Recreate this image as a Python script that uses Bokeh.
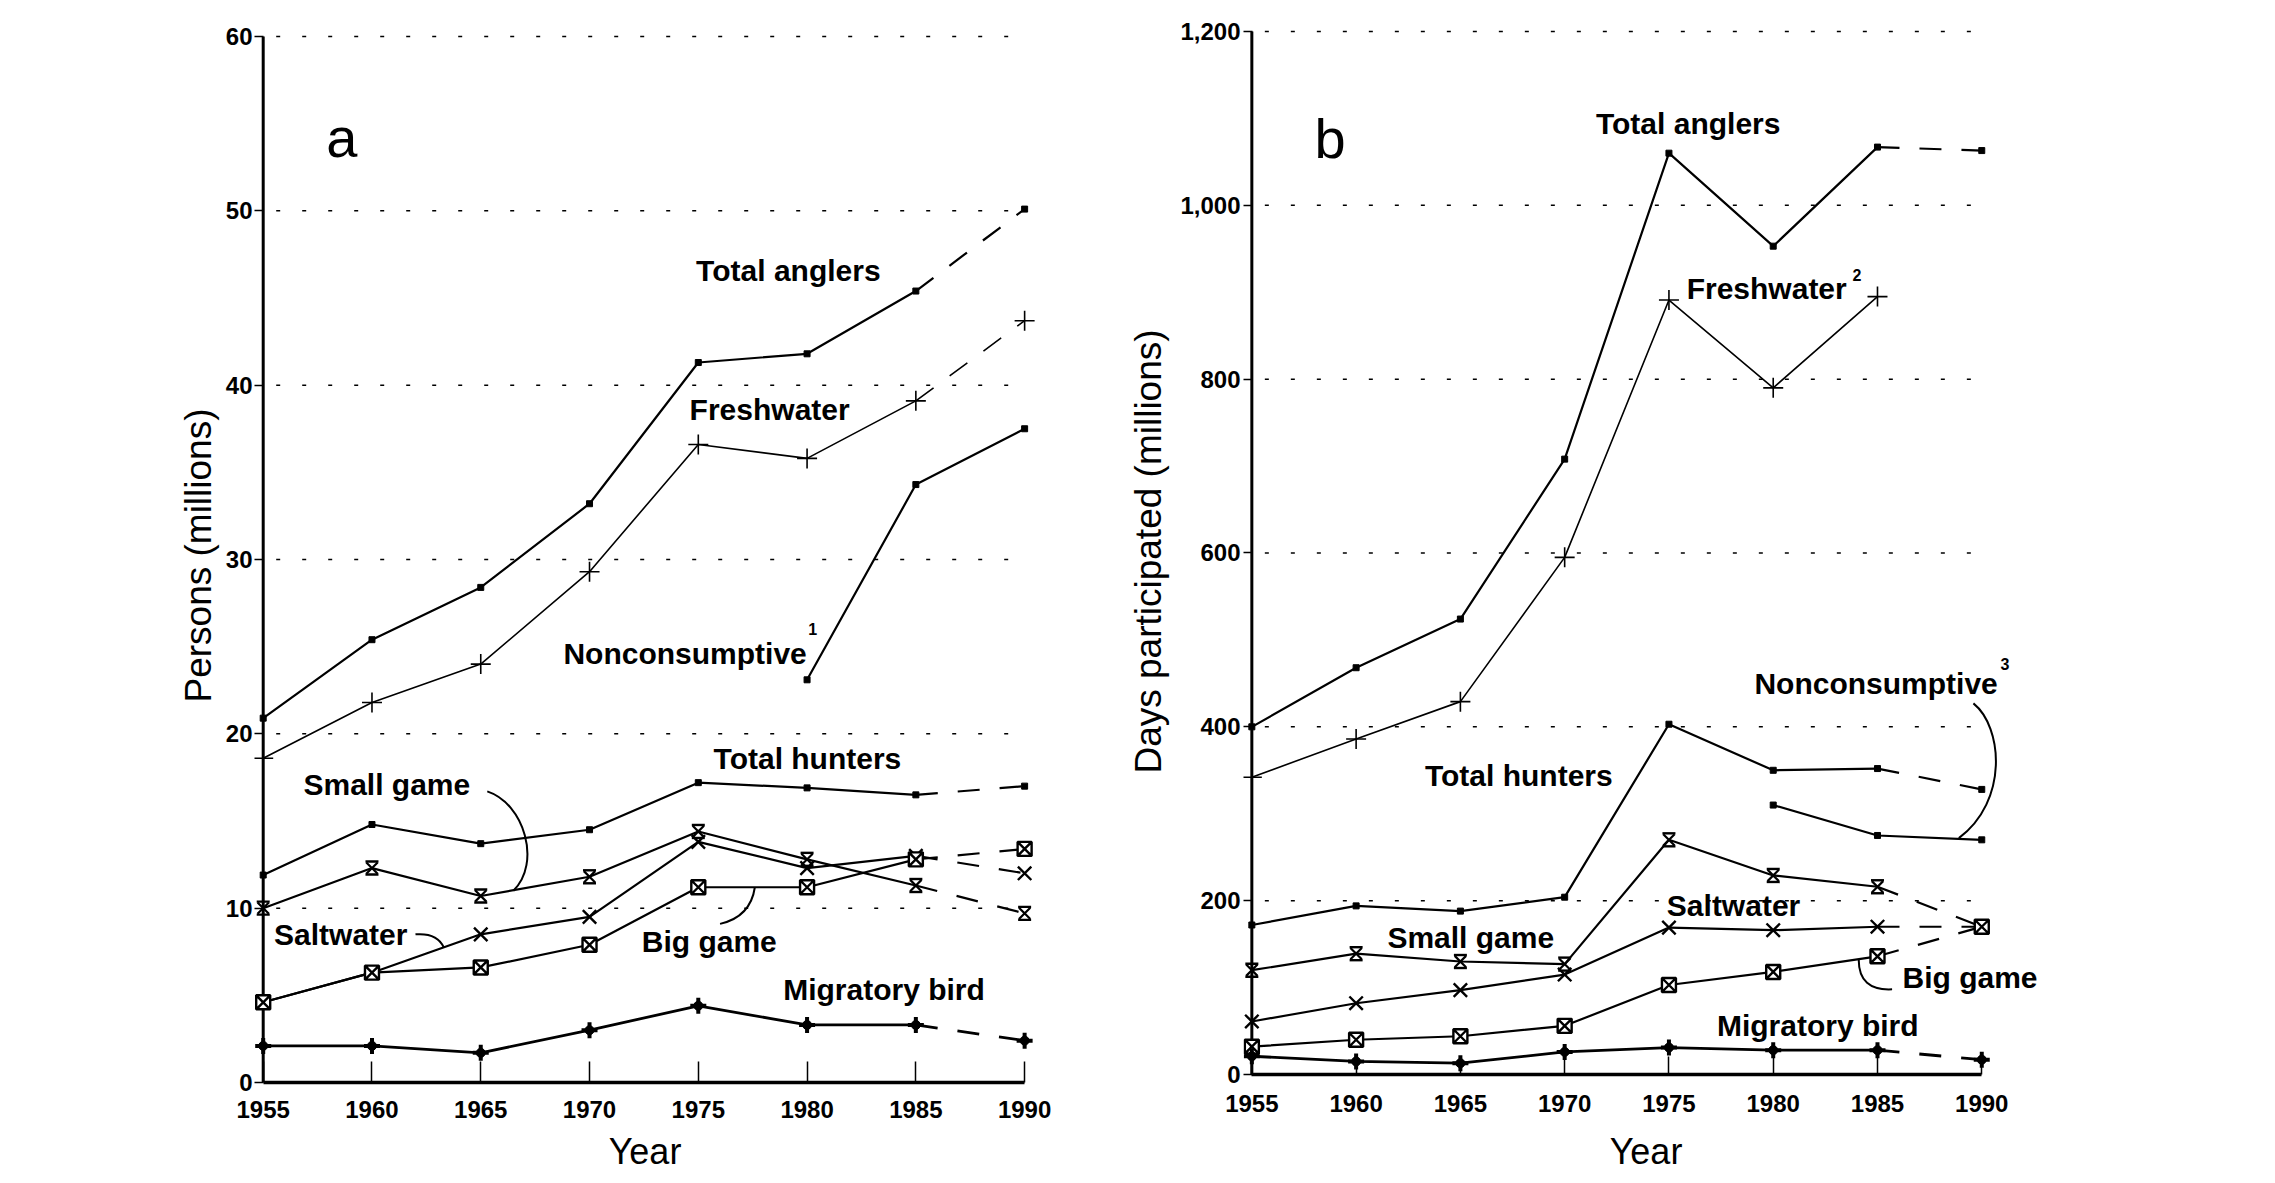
from bokeh.plotting import figure
from bokeh.layouts import row
from bokeh.models import Label, FixedTicker, NumeralTickFormatter, Range1d
from bokeh.embed import file_html
from bokeh.resources import INLINE

FONT = "Liberation Sans"

# ---------------- data ----------------
years = [1955, 1960, 1965, 1970, 1975, 1980, 1985, 1990]
nonc_years = [1980, 1985, 1990]
fresh_b_years = [1955, 1960, 1965, 1970, 1975, 1980, 1985]
a_yticks = [0, 10, 20, 30, 40, 50, 60]
b_yticks = [0, 200, 400, 600, 800, 1000, 1200]

# Panel a: persons (millions)
a_total_anglers = [20.9, 25.4, 28.4, 33.2, 41.3, 41.8, 45.4, 50.1]
a_freshwater = [18.6, 21.8, 24.0, 29.3, 36.6, 35.8, 39.1, 43.7]
a_nonconsumptive = [23.1, 34.3, 37.5]
a_total_hunters = [11.9, 14.8, 13.7, 14.5, 17.2, 16.9, 16.5, 17.0]
a_small_game = [10.0, 12.3, 10.7, 11.8, 14.4, 12.8, 11.3, 9.7]
a_saltwater = [4.6, 6.3, 8.5, 9.5, 13.8, 12.3, 13.0, 12.0]
a_big_game = [4.6, 6.3, 6.6, 7.9, 11.2, 11.2, 12.8, 13.4]
a_migratory_bird = [2.1, 2.1, 1.7, 3.0, 4.4, 3.3, 3.3, 2.4]

# Panel b: days participated (millions)
b_total_anglers = [400, 468, 524, 708, 1060, 953, 1067, 1063]
b_freshwater = [342, 386, 429, 595, 891, 790, 895]
b_nonconsumptive = [310, 275, 270]
b_total_hunters = [172, 194, 188, 204, 403, 350, 352, 328]
b_small_game = [120, 139, 130, 127, 270, 229, 216, 170]
b_saltwater = [61, 82, 97, 115, 169, 166, 170, 170]
b_big_game = [32, 40, 44, 56, 103, 118, 136, 170]
b_migratory_bird = [21, 15, 13, 26, 31, 28, 28, 17]

DASH = "22 20"
GRID_DASH = "4 22"
TOP = 28


def make_fig(frame_w, frame_h, bl, br, bb, xr, yr):
    p = figure(frame_width=frame_w, frame_height=frame_h,
               min_border_left=bl, min_border_right=br,
               min_border_top=TOP, min_border_bottom=bb,
               x_range=Range1d(*xr), y_range=Range1d(*yr),
               output_backend="svg", toolbar_location=None)
    p.outline_line_color = None
    p.background_fill_color = "white"
    p.border_fill_color = "white"
    return p


def style_axes(p, yticks, ylabel, x_tick_in, x_std, x_als, y_std, y_als, fmt=None):
    p.xaxis.ticker = FixedTicker(ticks=years)
    p.xaxis.bounds = (1955, 1990)
    p.xaxis.axis_line_width = 3.5
    p.xaxis.axis_line_color = "black"
    p.xaxis.major_tick_in = x_tick_in
    p.xaxis.major_tick_out = 0
    p.xaxis.major_tick_line_width = 1.5
    p.xaxis.minor_tick_line_color = None
    p.xaxis.major_label_standoff = x_std
    p.xaxis.major_label_text_font = FONT
    p.xaxis.major_label_text_font_size = "24px"
    p.xaxis.major_label_text_font_style = "bold"
    p.xaxis.major_label_text_color = "black"
    p.xaxis.axis_label = "Year"
    p.xaxis.axis_label_standoff = x_als
    p.xaxis.axis_label_text_font = FONT
    p.xaxis.axis_label_text_font_size = "36px"
    p.xaxis.axis_label_text_font_style = "normal"
    p.xaxis.axis_label_text_color = "black"

    p.yaxis.ticker = FixedTicker(ticks=yticks)
    if fmt:
        p.yaxis.formatter = NumeralTickFormatter(format=fmt)
    p.yaxis.axis_line_color = None
    p.yaxis.major_tick_in = 9
    p.yaxis.major_tick_out = 0
    p.yaxis.major_tick_line_width = 1.5
    p.yaxis.minor_tick_line_color = None
    p.yaxis.major_label_standoff = y_std
    p.yaxis.major_label_text_font = FONT
    p.yaxis.major_label_text_font_size = "24px"
    p.yaxis.major_label_text_font_style = "bold"
    p.yaxis.major_label_text_color = "black"
    p.yaxis.axis_label = ylabel
    p.yaxis.axis_label_standoff = y_als
    p.yaxis.axis_label_text_font = FONT
    p.yaxis.axis_label_text_font_size = "37px"
    p.yaxis.axis_label_text_font_style = "normal"
    p.yaxis.axis_label_text_color = "black"

    # dotted horizontal grid from 1955 to 1990 at every labelled value above 0
    p.xgrid.grid_line_color = None
    p.ygrid.grid_line_color = None
    gy = [v for v in yticks if v > 0]
    p.segment(x0=[years[0]] * len(gy), x1=[years[-1]] * len(gy), y0=gy, y1=gy,
              line_color="black", line_width=1.5, line_dash=GRID_DASH,
              line_dash_offset=13, level="underlay")

    # vertical axis line at 1955, from 0 to the top tick
    p.segment(x0=[years[0]], x1=[years[0]], y0=[yticks[0]], y1=[yticks[-1]],
              line_color="black", line_width=3)


def draw_line(p, xs, ys, lw=2.2, dashed_last=True):
    if dashed_last:
        p.line(xs[:-1], ys[:-1], line_color="black", line_width=lw)
        p.line(xs[-2:], ys[-2:], line_color="black", line_width=lw, line_dash=DASH)
    else:
        p.line(xs, ys, line_color="black", line_width=lw)


def dots(p, xs, ys):
    p.scatter(xs, ys, marker="square", size=6, color="black")


def thin_plus(p, xs, ys):
    p.scatter(xs, ys, marker="cross", size=20, line_color="black", line_width=1.6)


def hourglass(p, xs, ys, per_px):
    off = 6.5 * per_px
    p.scatter(xs, ys, marker="x", size=16, line_color="black", line_width=2.2)
    p.scatter(xs, [v + off for v in ys], marker="dash", size=13, line_color="black", line_width=2.4)
    p.scatter(xs, [v - off for v in ys], marker="dash", size=13, line_color="black", line_width=2.4)


def xmark(p, xs, ys):
    p.scatter(xs, ys, marker="x", size=19, line_color="black", line_width=2.4)


def boxx(p, xs, ys):
    p.scatter(xs, ys, marker="square_x", size=14, line_color="black",
              fill_color="white", line_width=2.4)


def bird(p, xs, ys):
    p.scatter(xs, ys, marker="cross", size=16, line_color="black", line_width=4)
    p.scatter(xs, ys, marker="circle", size=9, color="black")


def lbl(p, x, y, text, size="30px", style="bold", align="left", baseline="middle"):
    p.add_layout(Label(x=x, y=y, text=text, text_font=FONT, text_font_size=size,
                       text_font_style=style, text_align=align, text_baseline=baseline,
                       text_color="black"))


# ---------------- panel a ----------------
A_FH = 1054
A_YEND = 60.46
pa = make_fig(781, A_FH, 254, 73, 98, (1954.6, 1990.5), (0, A_YEND))
style_axes(pa, a_yticks, "Persons (millions)", 21, 18, 10, 2, 4)
per_a = A_YEND / A_FH

draw_line(pa, years, a_total_anglers)
dots(pa, years, a_total_anglers)
draw_line(pa, years, a_freshwater, lw=1.6)
thin_plus(pa, years, a_freshwater)
draw_line(pa, nonc_years, a_nonconsumptive, dashed_last=False)
dots(pa, nonc_years, a_nonconsumptive)
draw_line(pa, years, a_total_hunters)
dots(pa, years, a_total_hunters)
draw_line(pa, years, a_small_game)
hourglass(pa, years, a_small_game, per_a)
draw_line(pa, years, a_saltwater)
xmark(pa, years, a_saltwater)
draw_line(pa, years, a_big_game)
boxx(pa, years, a_big_game)
draw_line(pa, years, a_migratory_bird, lw=2.8)
bird(pa, years, a_migratory_bird)

# leader curves (panel a)
pa.bezier(x0=[1965.3], y0=[16.7], x1=[1966.5], y1=[11.0],
          cx0=[1967.0], cy0=[16.0], cx1=[1967.8], cy1=[12.6], line_color="black", line_width=2)
pa.quadratic(x0=[1962.0], y0=[8.5], x1=[1963.3], y1=[7.75],
             cx=[1963.0], cy=[8.6], line_color="black", line_width=2)
pa.quadratic(x0=[1976.0], y0=[9.1], x1=[1977.6], y1=[11.2],
             cx=[1977.4], cy=[9.5], line_color="black", line_width=2)

lbl(pa, 1957.9, 54.2, "a", size="56px", style="normal", baseline="alphabetic")
lbl(pa, 1974.9, 46.6, "Total anglers")
lbl(pa, 1974.6, 38.6, "Freshwater")
lbl(pa, 1968.8, 24.6, "Nonconsumptive")
lbl(pa, 1980.05, 26.0, "1", size="16px")
lbl(pa, 1975.7, 18.6, "Total hunters")
lbl(pa, 1956.85, 17.1, "Small game")
lbl(pa, 1955.5, 8.5, "Saltwater")
lbl(pa, 1972.4, 8.1, "Big game")
lbl(pa, 1978.9, 5.35, "Migratory bird")

# ---------------- panel b ----------------
B_FH = 1046
B_YEND = 1203.45
pb = make_fig(805, B_FH, 135, 227, 106, (1954.6, 1993.2), (0, B_YEND))
style_axes(pb, b_yticks, "Days participated (millions)", 18, 20, 16, 3, 8, fmt="0,0")
per_b = B_YEND / B_FH

draw_line(pb, years, b_total_anglers)
dots(pb, years, b_total_anglers)
draw_line(pb, fresh_b_years, b_freshwater, lw=1.6, dashed_last=False)
thin_plus(pb, fresh_b_years, b_freshwater)
draw_line(pb, nonc_years, b_nonconsumptive, dashed_last=False)
dots(pb, nonc_years, b_nonconsumptive)
draw_line(pb, years, b_total_hunters)
dots(pb, years, b_total_hunters)
draw_line(pb, years, b_small_game)
hourglass(pb, years, b_small_game, per_b)
draw_line(pb, years, b_saltwater)
xmark(pb, years, b_saltwater)
draw_line(pb, years, b_big_game)
boxx(pb, years, b_big_game)
draw_line(pb, years, b_migratory_bird, lw=2.8)
bird(pb, years, b_migratory_bird)

pb.bezier(x0=[1989.6], y0=[427], x1=[1988.9], y1=[272],
          cx0=[1991.0], cy0=[400], cx1=[1991.3], cy1=[315], line_color="black", line_width=2)
pb.quadratic(x0=[1985.7], y0=[98], x1=[1984.1], y1=[132],
             cx=[1984.1], cy=[96], line_color="black", line_width=2)

lbl(pb, 1958.0, 1077, "b", size="56px", style="normal", baseline="alphabetic")
lbl(pb, 1971.5, 1094, "Total anglers")
lbl(pb, 1975.85, 904, "Freshwater")
lbl(pb, 1983.8, 920, "2", size="16px")
lbl(pb, 1979.1, 450, "Nonconsumptive")
lbl(pb, 1990.9, 472, "3", size="16px")
lbl(pb, 1963.3, 344, "Total hunters")
lbl(pb, 1974.9, 195, "Saltwater")
lbl(pb, 1961.5, 158, "Small game")
lbl(pb, 1986.2, 112, "Big game")
lbl(pb, 1977.3, 56, "Migratory bird")

layout = row(pa, pb)
open("out.html", "w").write(file_html(layout, INLINE))
